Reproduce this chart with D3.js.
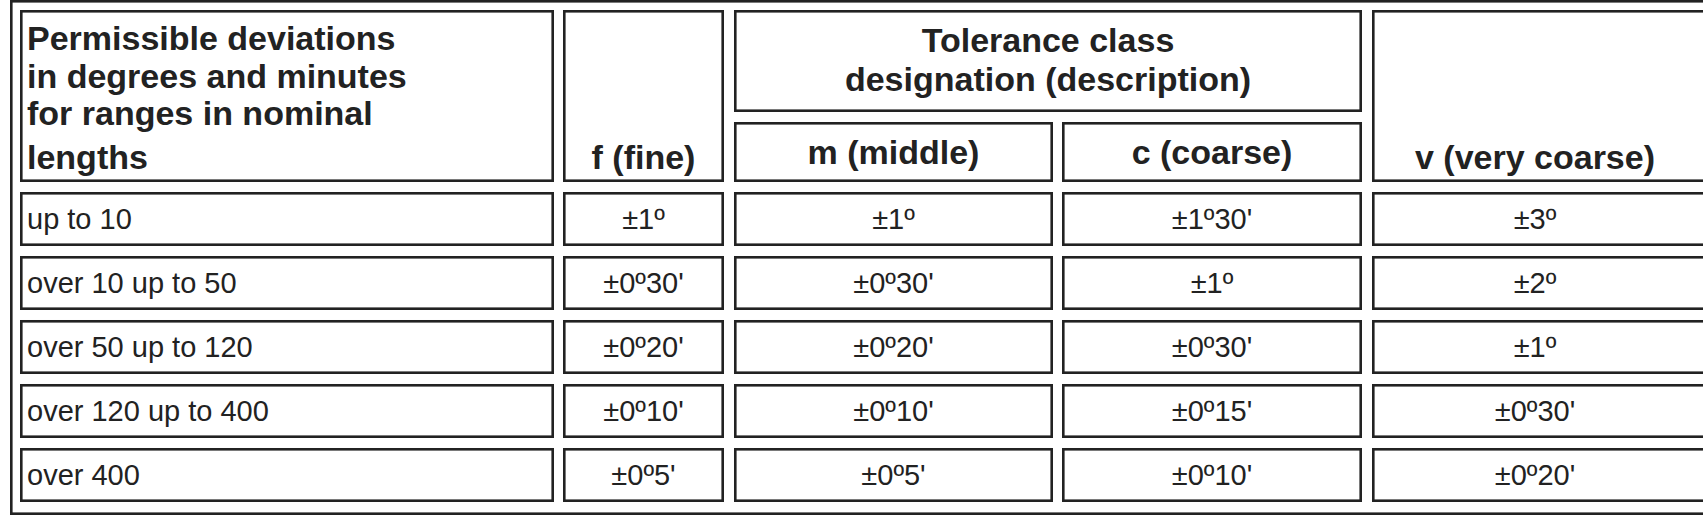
<!DOCTYPE html>
<html><head><meta charset="utf-8">
<script src="https://cdn.jsdelivr.net/npm/d3@7"></script>
<style>html,body{margin:0;padding:0;background:#fff;overflow:hidden}</style>
</head><body><svg id="c" width="1703" height="515"></svg>
<script>
const rowLabels = ["up to 10","over 10 up to 50","over 50 up to 120","over 120 up to 400","over 400"];
const columnKeys = ["f (fine)","m (middle)","c (coarse)","v (very coarse)"];
const fineValues = ["±1º","±0º30'","±0º20'","±0º10'","±0º5'"];
const middleValues = ["±1º","±0º30'","±0º20'","±0º10'","±0º5'"];
const coarseValues = ["±1º30'","±1º","±0º30'","±0º15'","±0º10'"];
const veryCoarseValues = ["±3º","±2º","±1º","±0º30'","±0º20'"];
const headerLines = ["Permissible deviations","in degrees and minutes","for ranges in nominal","lengths"];
const groupHeaderLines = ["Tolerance class","designation (description)"];

const svg = d3.select("#c");
const ink = "#222";
const font = "'Liberation Sans', Arial, Helvetica, sans-serif";
const colEdges = [[20,554],[563,724],[734,1053],[1062,1362],[1372,1716]];
const y = d3.scaleBand().domain(rowLabels).range([192,502]).paddingInner(10/64).paddingOuter(0);
const sw = 2.6;
function box(x0,y0,x1,y1){
  svg.append("rect").attr("x",x0+sw/2).attr("y",y0+sw/2).attr("width",x1-x0-sw).attr("height",y1-y0-sw)
    .attr("fill","none").attr("stroke",ink).attr("stroke-width",sw);
}
function txt(s,x,yy,anchor,bold){
  svg.append("text").attr("x",x).attr("y",yy).attr("text-anchor",anchor).attr("dominant-baseline","central")
    .attr("font-family",font).attr("font-size",bold?34:29).attr("font-weight",bold?"bold":"normal").attr("fill",ink).text(s);
}
box(10,0,1720,515);
box(colEdges[0][0],10,colEdges[0][1],182);
const hy=[38,76,113,157];
headerLines.forEach((l,i)=>txt(l,colEdges[0][0]+7,hy[i],"start",true));
box(colEdges[1][0],10,colEdges[1][1],182);
txt(columnKeys[0],(colEdges[1][0]+colEdges[1][1])/2,157,"middle",true);
box(colEdges[2][0],10,colEdges[3][1],112);
const gcx=(colEdges[2][0]+colEdges[3][1])/2;
groupHeaderLines.forEach((l,i)=>txt(l,gcx,[40,79][i],"middle",true));
box(colEdges[2][0],122,colEdges[2][1],182);
txt(columnKeys[1],(colEdges[2][0]+colEdges[2][1])/2,152,"middle",true);
box(colEdges[3][0],122,colEdges[3][1],182);
txt(columnKeys[2],(colEdges[3][0]+colEdges[3][1])/2,152,"middle",true);
box(colEdges[4][0],10,colEdges[4][1],182);
txt(columnKeys[3],1535,157,"middle",true);
const series=[fineValues,middleValues,coarseValues,veryCoarseValues];
rowLabels.forEach((r,i)=>{
  const y0=y(r), y1=y0+y.bandwidth(), cy=(y0+y1)/2;
  box(colEdges[0][0],y0,colEdges[0][1],y1);
  txt(r,colEdges[0][0]+7,cy,"start",false);
  series.forEach((s,j)=>{
    const e=colEdges[j+1];
    box(e[0],y0,e[1],y1);
    const cx = j===3 ? 1535 : (e[0]+e[1])/2;
    txt(s[i],cx,cy,"middle",false);
  });
});
</script></body></html>
